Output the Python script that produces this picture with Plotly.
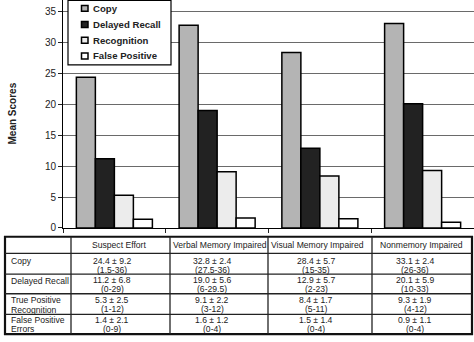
import plotly.graph_objects as go

# ---------------- data ----------------
groups = ["Suspect Effort", "Verbal Memory Impaired", "Visual Memory Impaired", "Nonmemory Impaired"]
series_names = ["Copy", "Delayed Recall", "Recognition", "False Positive"]

copy_mean = [24.4, 32.8, 28.4, 33.1]
copy_sd = [9.2, 2.4, 5.7, 2.4]
copy_range = ["1.5-36", "27.5-36", "15-35", "26-36"]

recall_mean = [11.2, 19.0, 12.9, 20.1]
recall_sd = [6.8, 5.6, 5.7, 5.9]
recall_range = ["0-29", "6-29.5", "2-23", "10-33"]

recog_mean = [5.3, 9.1, 8.4, 9.3]
recog_sd = [2.5, 2.2, 1.7, 1.9]
recog_range = ["1-12", "3-12", "5-11", "4-12"]

fp_mean = [1.4, 1.6, 1.5, 0.9]
fp_sd = [2.1, 1.2, 1.4, 1.1]
fp_range = ["0-9", "0-4", "0-4", "0-4"]

row_labels = [["Copy"], ["Delayed Recall"], ["True Positive", "Recognition"], ["False Positive", "Errors"]]
y_ticks = [0, 5, 10, 15, 20, 25, 30, 35]

# ---------------- style ----------------
W, H = 474, 342
colors = ["#b4b4b4", "#222222", "#ececec", "#ffffff"]
FONT = "Arial, Liberation Sans, sans-serif"
TXT = "#222222"
TFS = 8.6  # table font size


def px(x):
    return x / W


def py(y):
    return 1 - y / H


fig = go.Figure()
all_means = [copy_mean, recall_mean, recog_mean, fp_mean]
for name, vals, col in zip(series_names, all_means, colors):
    fig.add_trace(go.Bar(
        x=groups, y=vals, name=name,
        marker=dict(color=col, line=dict(color="black", width=1.5)),
        showlegend=False,
    ))

shapes = []
annotations = []

# ---------- legend (drawn) ----------
leg_x0, leg_x1, leg_y0, leg_y1 = 68, 171, 0.5, 66
shapes.append(dict(type="rect", xref="paper", yref="paper",
                   x0=px(leg_x0), x1=px(leg_x1), y0=py(leg_y1), y1=py(leg_y0),
                   line=dict(color="black", width=1.2), fillcolor="white", layer="above"))
leg_rows = [8.5, 25, 41, 57]
for name, col, yy in zip(series_names, colors, leg_rows):
    shapes.append(dict(type="rect", xref="paper", yref="paper",
                       x0=px(81.5), x1=px(88), y0=py(yy + 3), y1=py(yy - 3),
                       line=dict(color="black", width=1.5), fillcolor=col, layer="above"))
    annotations.append(dict(text="<b>" + name + "</b>", x=px(91), y=py(yy), xref="paper", yref="paper",
                            xanchor="left", yanchor="middle", showarrow=False,
                            font=dict(family=FONT, size=9.6, color=TXT)))

# ---------- y axis title ----------
annotations.append(dict(text="<b>Mean Scores</b>", x=px(12.5), y=py(116), xref="paper", yref="paper",
                        xanchor="center", yanchor="middle", textangle=-90, showarrow=False,
                        font=dict(family=FONT, size=10, color=TXT)))

# ---------- table ----------
col_edges = [5, 71, 170, 268, 372, 472]
row_edges = [241, 258, 279, 299, 320, 340]
shapes.append(dict(type="rect", xref="paper", yref="paper",
                   x0=px(col_edges[0]), x1=px(col_edges[-1]), y0=py(row_edges[-1]), y1=py(row_edges[0]),
                   line=dict(color="#111111", width=2.2), fillcolor="rgba(0,0,0,0)"))
for cx in col_edges[1:-1]:
    shapes.append(dict(type="line", xref="paper", yref="paper",
                       x0=px(cx), x1=px(cx), y0=py(row_edges[-1]), y1=py(row_edges[0]),
                       line=dict(color="#222222", width=1.3)))
for ry in row_edges[1:-1]:
    shapes.append(dict(type="line", xref="paper", yref="paper",
                       x0=px(col_edges[0]), x1=px(col_edges[-1]), y0=py(ry), y1=py(ry),
                       line=dict(color="#222222", width=1.3)))

header_cx = [119, 220, 317.5, 421]
cell_cx = [112, 212, 316, 415]
for g, cx in zip(groups, header_cx):
    annotations.append(dict(text=g, x=px(cx), y=py(249), xref="paper", yref="paper",
                            xanchor="center", yanchor="middle", showarrow=False,
                            font=dict(family=FONT, size=TFS, color=TXT)))

line1_y = [265.5, 285.5, 305.5, 325.5]
line2_y = [274.5, 294.5, 314.5, 334.5]
label_y = [[266], [286], [305.5, 315.5], [325.5, 335]]
all_sds = [copy_sd, recall_sd, recog_sd, fp_sd]
all_ranges = [copy_range, recall_range, recog_range, fp_range]
for r in range(4):
    for txt, yy in zip(row_labels[r], label_y[r]):
        annotations.append(dict(text=txt, x=px(9), y=py(yy), xref="paper", yref="paper",
                                xanchor="left", yanchor="middle", showarrow=False,
                                font=dict(family=FONT, size=TFS, color=TXT)))
    for c in range(4):
        m = all_means[r][c]
        s = all_sds[r][c]
        annotations.append(dict(text=f"{m:.1f} \u00b1 {s:.1f}", x=px(cell_cx[c]), y=py(line1_y[r]),
                                xref="paper", yref="paper", xanchor="center", yanchor="middle",
                                showarrow=False, font=dict(family=FONT, size=TFS, color=TXT)))
        annotations.append(dict(text=f"({all_ranges[r][c]})", x=px(cell_cx[c]), y=py(line2_y[r]),
                                xref="paper", yref="paper", xanchor="center", yanchor="middle",
                                showarrow=False, font=dict(family=FONT, size=TFS, color=TXT)))

fig.update_layout(
    width=W, height=H,
    margin=dict(l=0, r=0, t=0, b=0),
    paper_bgcolor="white", plot_bgcolor="white",
    barmode="group", bargap=0.26, bargroupgap=0,
    showlegend=False,
    shapes=shapes, annotations=annotations,
    xaxis=dict(domain=[px(63), 1], type="category", showticklabels=False,
               ticks="outside", tickson="boundaries", ticklen=4, tickcolor="#222",
               showline=True, linecolor="black", linewidth=1, showgrid=False),
    yaxis=dict(domain=[py(232), 1], range=[0, 36.9], tickvals=y_ticks,
               ticks="outside", ticklen=4, tickcolor="#222",
               tickfont=dict(family=FONT, size=10, color=TXT),
               showline=True, linecolor="black", linewidth=1,
               showgrid=True, gridcolor="#6a6a6a", gridwidth=1, zeroline=False),
)

fig.write_html("out.html")
